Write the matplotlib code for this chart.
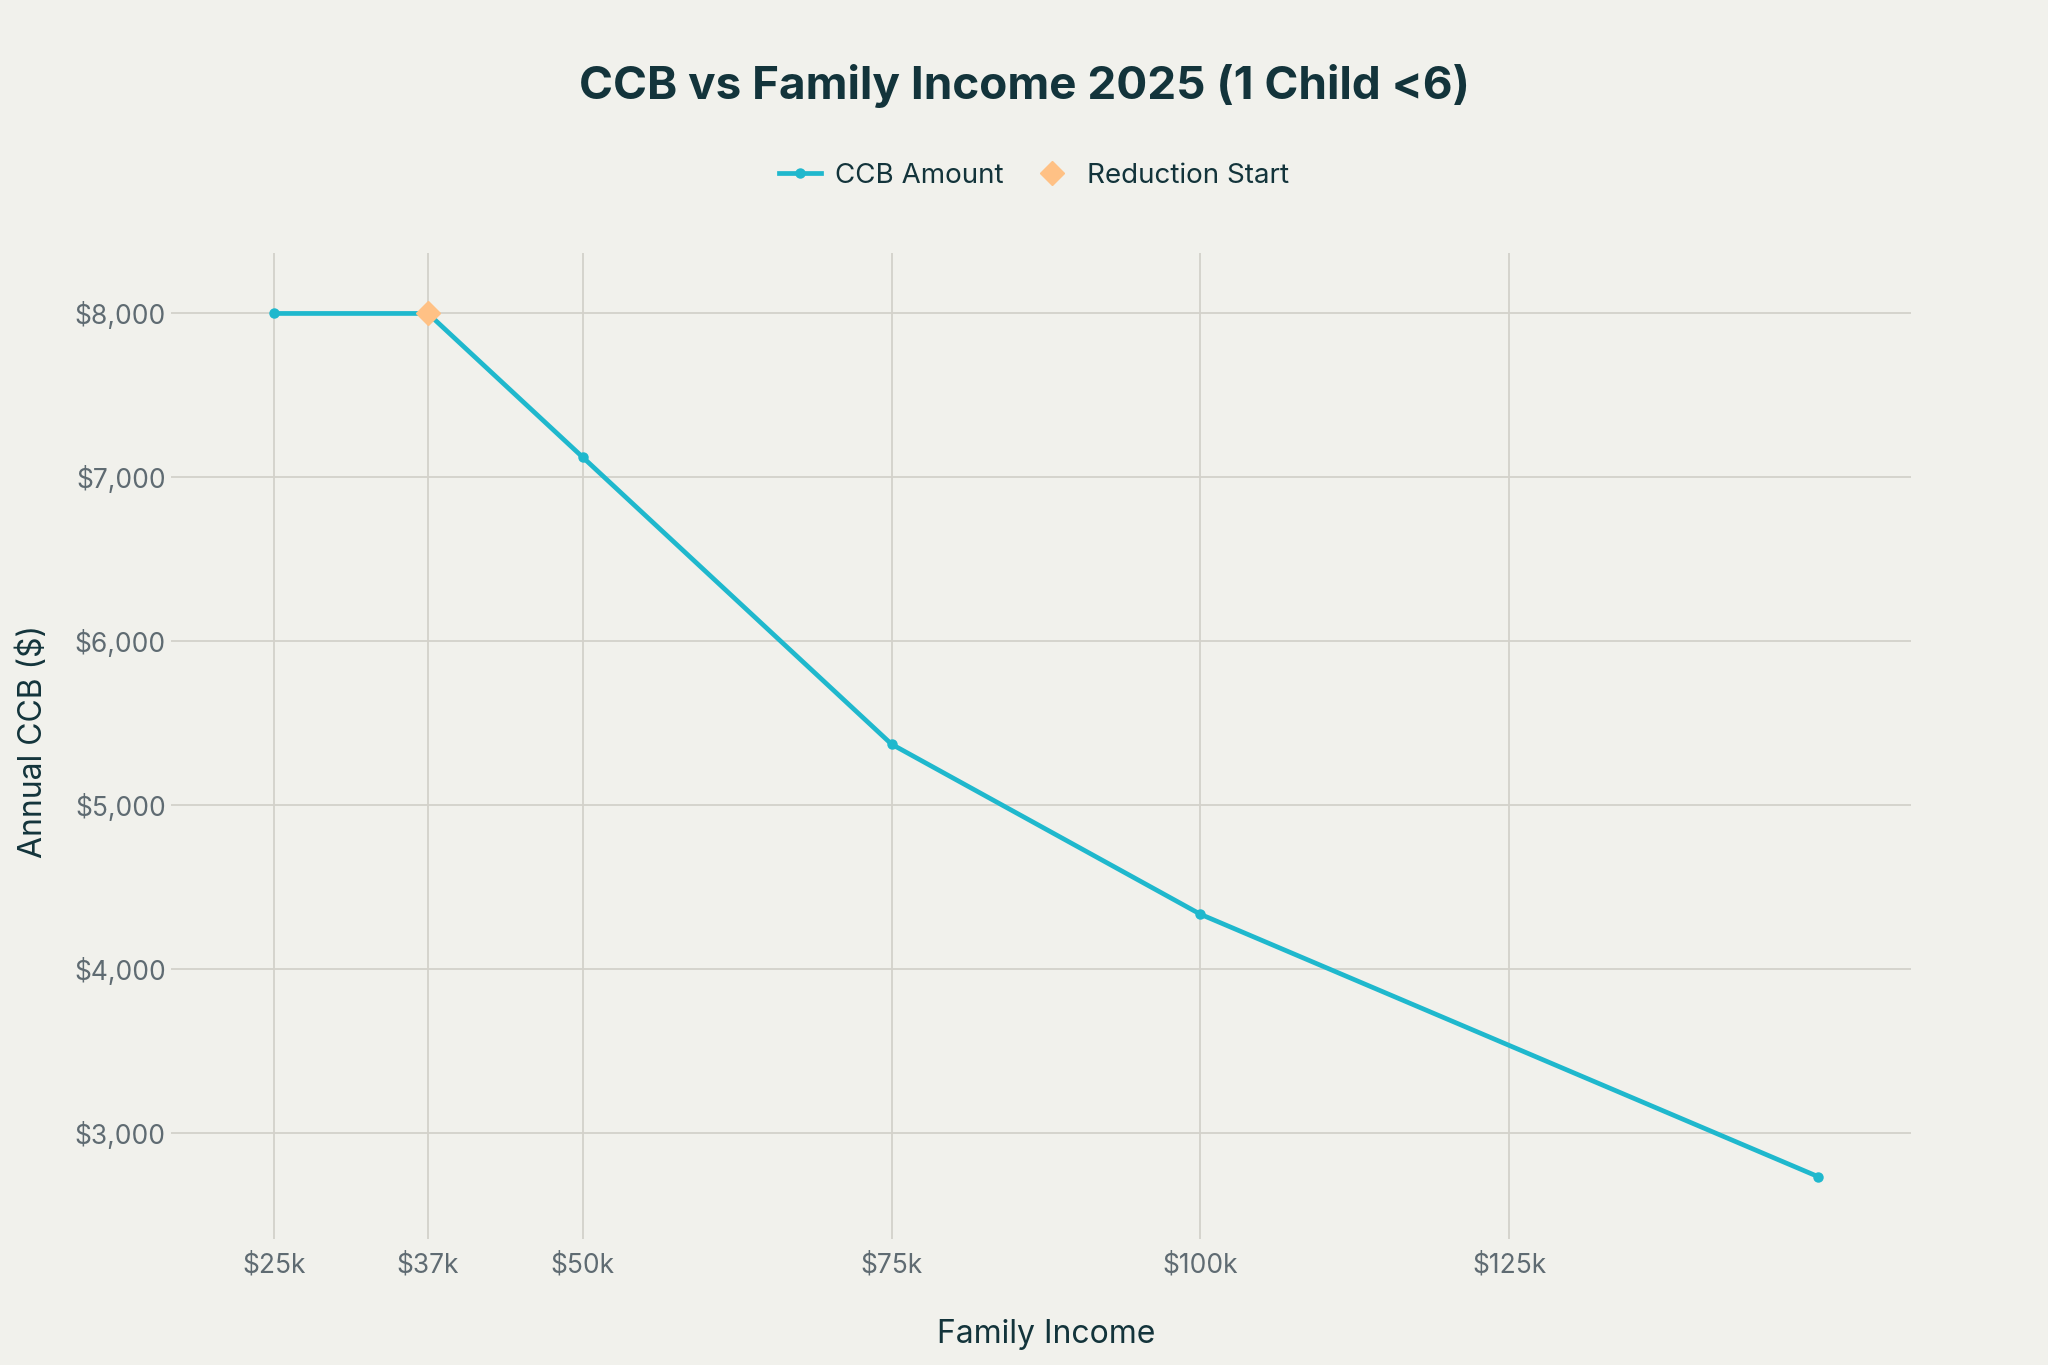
import matplotlib.pyplot as plt
import numpy as np

# family income points and annual CCB (1 child under 6, 2025)
income = [25000, 37487, 50000, 75000, 100000, 150000]
ccb = [7997, 7997, 7121, 5371, 4334, 2734]

# phase-out threshold
reduction_x = [37487]
reduction_y = [7997]

x_ticks = [25000, 37487, 50000, 75000, 100000, 125000]
x_labels = ['$25k', '$37k', '$50k', '$75k', '$100k', '$125k']
y_ticks = [3000, 4000, 5000, 6000, 7000, 8000]
y_labels = ['$3,000', '$4,000', '$5,000', '$6,000', '$7,000', '$8,000']

BG = '#F1F1EC'
GRID = '#D3D1CA'
DARK = '#13343B'
TICK = '#5F6B72'
LINE_COLOR = '#1FB8CD'
DIAMOND_COLOR = '#FFC185'

plt.rcParams['font.family'] = ['Inter', 'DejaVu Sans']

fig = plt.figure(figsize=(20.48, 13.65), dpi=100, facecolor=BG)
ax = fig.add_axes([0.0884, 0.0996, 0.8447, 0.7151])
ax.set_facecolor(BG)

ax.plot(income, ccb, color=LINE_COLOR, lw=3.4, marker='o', ms=6.5,
        label='CCB Amount', zorder=3)
ax.plot(reduction_x, reduction_y, linestyle='none', marker='D', ms=12.5,
        color=DIAMOND_COLOR, label='Reduction Start', zorder=4)

ax.set_xlim(17500, 157500)
ax.set_ylim(2415, 8366)

ax.set_xticks(x_ticks)
ax.set_xticklabels(x_labels)
ax.set_yticks(y_ticks)
ax.set_yticklabels(y_labels)

ax.grid(color=GRID, lw=1.3)
ax.set_axisbelow(True)
for s in ax.spines.values():
    s.set_visible(False)
ax.tick_params(axis='both', colors=GRID, length=7, width=1.3)
ax.tick_params(axis='x', pad=10)
ax.tick_params(axis='y', pad=4)
ax.tick_params(axis='both', labelcolor=TICK, labelsize=19)

ax.set_xlabel('Family Income', fontsize=23, color=DARK, labelpad=29)
ax.set_ylabel('Annual CCB ($)', fontsize=23, color=DARK, labelpad=18)

fig.text(0.5, 0.937, 'CCB vs Family Income 2025 (1 Child <6)', ha='center',
         va='center', fontsize=33, fontweight='bold', color=DARK)

fig.legend(loc='center', bbox_to_anchor=(0.505, 0.871), ncol=2, frameon=False,
           fontsize=20, labelcolor=DARK, handlelength=1.5, columnspacing=1.0,
           handletextpad=0.5)

fig.savefig('out.png', dpi=100, facecolor=BG)
